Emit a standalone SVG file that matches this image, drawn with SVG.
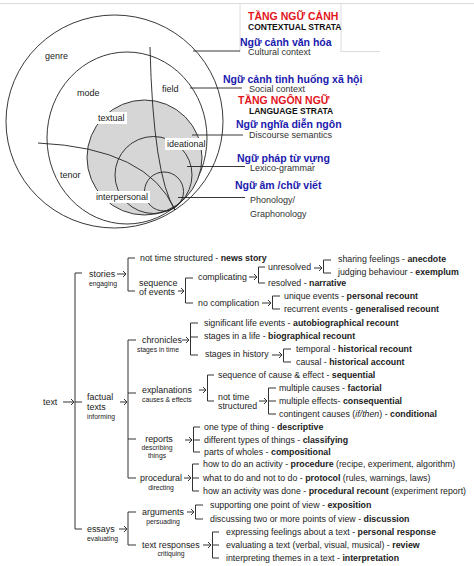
<svg xmlns="http://www.w3.org/2000/svg" width="474" height="566" viewBox="0 0 474 566">
<style>
text{font-family:"Liberation Sans",Arial,sans-serif;fill:#222}
.c{fill:none;stroke:#222;stroke-width:0.9}
.g{fill:#d6d6d6;stroke:#222;stroke-width:0.9}
.lb{font-size:9px}
.bx{fill:#fff}
.red{font-size:10.5px;font-weight:bold;fill:#e3141c}
.blue{font-size:10.5px;font-weight:bold;fill:#1a1aae}
.cap{font-size:8.5px;font-weight:bold;fill:#111}
.en{font-size:9px;fill:#333}
.t{font-size:8.8px}
.l{font-size:8.9px}
.s{font-size:6.8px}
.m{text-anchor:middle}
.b{font-weight:bold}
.k{fill:none;stroke:#333;stroke-width:1}
.lead{fill:none;stroke:#222;stroke-width:0.9}
.art{fill:none;stroke:#dcdcdc;stroke-width:1}
</style>
<rect width="474" height="566" fill="#fff"/>
<g id="artifacts">
<line class="art" x1="0" y1="3.5" x2="474" y2="3.5"/>
<path class="art" d="M240,4 V52 M341,4 V52 M341,51.5 H380"/>
</g>
<g id="circles">
<ellipse class="c" cx="114.5" cy="121.5" rx="108.5" ry="106.5"/>
<ellipse class="c" cx="127" cy="138" rx="80" ry="86"/>
<circle class="g" cx="144.5" cy="157.5" r="57.5"/>
<circle class="c" cx="153.5" cy="175" r="38.5"/>
<circle class="c" cx="164" cy="191.5" r="19.5"/>
<path class="c" d="M38,143 Q148,148 175,210"/>
<path class="c" d="M150,47 Q153,175 175,210"/>
</g>
<g id="circle-labels">
<text class="lb" x="45" y="59">genre</text>
<text class="lb" x="77" y="96">mode</text>
<text class="lb" x="162" y="92">field</text>
<rect class="bx" x="97" y="112" width="30" height="12"/>
<text class="lb" x="98" y="121">textual</text>
<rect class="bx" x="165" y="138" width="40" height="12"/>
<text class="lb" x="167" y="147">ideational</text>
<text class="lb" x="60" y="178">tenor</text>
<rect class="bx" x="94" y="191" width="56" height="12"/>
<text class="lb" x="96" y="200">interpersonal</text>
</g>
<g id="leaders">
<line class="lead" x1="193" y1="51" x2="240" y2="51"/>
<line class="lead" x1="190" y1="88" x2="242" y2="88"/>
<line class="lead" x1="192" y1="135" x2="243" y2="135"/>
<line class="lead" x1="187" y1="166.5" x2="245" y2="166.5"/>
<line class="lead" x1="178" y1="197.5" x2="245" y2="197.5"/>
</g>
<g id="strata-labels">
<text class="red" x="248" y="20">TẦNG NGỮ CẢNH</text>
<text class="cap" x="248" y="30">CONTEXTUAL STRATA</text>
<text class="blue" x="240" y="46">Ngữ cảnh văn hóa</text>
<text class="en" x="248" y="55">Cultural context</text>
<text class="blue" x="223" y="83">Ngữ cảnh tinh huống xã hội</text>
<text class="en" x="249" y="92">Social context</text>
<text class="red" x="238" y="104">TẦNG NGÔN NGỮ</text>
<text class="cap" x="249" y="114">LANGUAGE STRATA</text>
<text class="blue" x="236" y="128">Ngữ nghĩa diễn ngôn</text>
<text class="en" x="249" y="138">Discourse semantics</text>
<text class="blue" x="237" y="162">Ngữ pháp từ vựng</text>
<text class="en" x="250" y="171">Lexico-grammar</text>
<text class="blue" x="235" y="189">Ngữ âm /chữ viết</text>
<text class="en" x="250" y="203">Phonology/</text>
<text class="en" x="250" y="217">Graphonology</text>
</g>
<g id="connectors">
<path class="k" d="M63,402 H74 M71,399 L74,402 L71,405 M75,273 V529 M75,273 H82 M75,529 H82 M75,402 H82"/>
<path class="k" d="M117,274 H126 M123,271 L126,274 L123,277 M128,258 V291 M128,258 H135 M128,291 H135"/>
<path class="k" d="M178,291 H184 M181,288 L184,291 L181,294 M185.5,278 V303 M185.5,278 H193 M185.5,303 H193"/>
<path class="k" d="M249,277 H257 M254,274 L257,277 L254,280 M258.5,267 V283 M258.5,267 H265 M258.5,283 H265"/>
<path class="k" d="M314,268 H322 M319,265 L322,268 L319,271 M323.5,260 V273 M323.5,260 H331 M323.5,273 H331"/>
<path class="k" d="M262,303 H271 M268,300 L271,303 L268,306 M272.5,296 V309 M272.5,296 H280 M272.5,309 H280"/>
<path class="k" d="M120,402 H127 M124,399 L127,402 L124,405 M128,340 V478 M128,340 H136 M128,393 H136 M128,439 H136 M128,478 H136"/>
<path class="k" d="M182,340 H189 M186,337 L189,340 L186,343 M190.5,323 V355 M190.5,323 H198 M190.5,337 H198 M190.5,355 H198"/>
<path class="k" d="M272,355 H282 M279,352 L282,355 L279,358 M283.5,349 V362 M283.5,349 H291 M283.5,362 H291"/>
<path class="k" d="M199,390 H206 M203,387 L206,390 L203,393 M207.5,375 V401 M207.5,375 H214 M207.5,401 H214"/>
<path class="k" d="M259,401 H267 M264,398 L267,401 L264,404 M268.5,388 V414 M268.5,388 H276 M268.5,401 H276 M268.5,414 H276"/>
<path class="k" d="M185,440 H192 M189,437 L192,440 L189,443 M193.5,427 V452 M193.5,427 H200 M193.5,440 H200 M193.5,452 H200"/>
<path class="k" d="M184,478 H191 M188,475 L191,478 L188,481 M192.5,464 V491 M192.5,464 H199 M192.5,478 H199 M192.5,491 H199"/>
<path class="k" d="M119,529 H127 M124,526 L127,529 L124,532 M128,512 V545 M128,512 H136 M128,545 H136"/>
<path class="k" d="M187,512 H194 M191,509 L194,512 L191,515 M195.5,505 V519 M195.5,505 H203 M195.5,519 H203"/>
<path class="k" d="M203,545 H211 M208,542 L211,545 L208,548 M212.5,532 V558 M212.5,532 H219 M212.5,545 H219 M212.5,558 H219"/>
</g>
<g id="n-text"><text class="l" x="43" y="405">text</text></g>
<g id="n-stories"><text class="l" x="89" y="277">stories</text><text class="s" x="89" y="286">engaging</text></g>
<g id="n-news"><text class="t" x="140" y="261">not time structured - <tspan class="b">news story</tspan></text></g>
<g id="n-sequence"><text class="l" x="139" y="286">sequence</text><text class="l" x="139" y="295">of events</text></g>
<g id="n-complicating"><text class="t" x="198" y="280">complicating</text></g>
<g id="n-unresolved"><text class="t" x="268" y="270">unresolved</text></g>
<g id="n-anecdote"><text class="t" x="338" y="262">sharing feelings - <tspan class="b">anecdote</tspan></text></g>
<g id="n-exemplum"><text class="t" x="338" y="275">judging behaviour - <tspan class="b">exemplum</tspan></text></g>
<g id="n-narrative"><text class="t" x="268" y="286">resolved - <tspan class="b">narrative</tspan></text></g>
<g id="n-nocomp"><text class="t" x="198" y="306">no complication</text></g>
<g id="n-personal"><text class="t" x="284" y="299">unique events  - <tspan class="b">personal recount</tspan></text></g>
<g id="n-generalised"><text class="t" x="284" y="312">recurrent events - <tspan class="b">generalised recount</tspan></text></g>
<g id="n-factual"><text class="l" x="87" y="400">factual</text><text class="l" x="87" y="410">texts</text><text class="s" x="87" y="419">informing</text></g>
<g id="n-chronicles"><text class="l" x="142" y="343">chronicles</text><text class="s" x="137" y="352">stages in time</text></g>
<g id="n-autobio"><text class="t" x="204" y="326">significant life events - <tspan class="b">autobiographical recount</tspan></text></g>
<g id="n-bio"><text class="t" x="204" y="339">stages in a life - <tspan class="b">biographical recount</tspan></text></g>
<g id="n-history"><text class="t" x="205" y="357">stages in history</text></g>
<g id="n-hrecount"><text class="t" x="296" y="352">temporal - <tspan class="b">historical recount</tspan></text></g>
<g id="n-haccount"><text class="t" x="296" y="365">causal - <tspan class="b">historical account</tspan></text></g>
<g id="n-explanations"><text class="l" x="142" y="393">explanations</text><text class="s" x="142" y="402">causes &amp; effects</text></g>
<g id="n-sequential"><text class="t" x="218" y="378">sequence of cause &amp; effect - <tspan class="b">sequential</tspan></text></g>
<g id="n-nottime"><text class="t" x="218" y="400">not time</text><text class="t" x="218" y="409">structured</text></g>
<g id="n-factorial"><text class="t" x="279" y="391">multiple causes - <tspan class="b">factorial</tspan></text></g>
<g id="n-consequential"><text class="t" x="279" y="404">multiple effects- <tspan class="b">consequential</tspan></text></g>
<g id="n-conditional"><text class="t" x="279" y="417">contingent causes (<tspan font-style="italic">if/then</tspan>) - <tspan class="b">conditional</tspan></text></g>
<g id="n-reports"><text class="l m" x="159" y="442">reports</text><text class="s m" x="157" y="450">describing</text><text class="s m" x="157" y="458">things</text></g>
<g id="n-descriptive"><text class="t" x="204" y="430">one type of thing - <tspan class="b">descriptive</tspan></text></g>
<g id="n-classifying"><text class="t" x="204" y="443">different types of things - <tspan class="b">classifying</tspan></text></g>
<g id="n-compositional"><text class="t" x="204" y="455">parts of wholes - <tspan class="b">compositional</tspan></text></g>
<g id="n-procedural"><text class="l" x="140" y="481">procedural</text><text class="s m" x="161" y="490">directing</text></g>
<g id="n-procedure"><text class="t" x="203" y="467">how to do an activity - <tspan class="b">procedure</tspan> (recipe, experiment, algorithm)</text></g>
<g id="n-protocol"><text class="t" x="203" y="481">what to do and not to do - <tspan class="b">protocol</tspan> (rules, warnings, laws)</text></g>
<g id="n-precount"><text class="t" x="203" y="494">how an activity was done - <tspan class="b">procedural recount</tspan> (experiment report)</text></g>
<g id="n-essays"><text class="l" x="87" y="532">essays</text><text class="s" x="87" y="541">evaluating</text></g>
<g id="n-arguments"><text class="l" x="142" y="515">arguments</text><text class="s m" x="163" y="524">persuading</text></g>
<g id="n-exposition"><text class="t" x="210" y="508">supporting one point of view - <tspan class="b">exposition</tspan></text></g>
<g id="n-discussion"><text class="t" x="210" y="522">discussing two or more points of view - <tspan class="b">discussion</tspan></text></g>
<g id="n-responses"><text class="l" x="142" y="548">text responses</text><text class="s m" x="171" y="556">critiquing</text></g>
<g id="n-personalresp"><text class="t" x="226" y="535">expressing feelings about a text - <tspan class="b">personal response</tspan></text></g>
<g id="n-review"><text class="t" x="226" y="548">evaluating a text (verbal, visual, musical) - <tspan class="b">review</tspan></text></g>
<g id="n-interpretation"><text class="t" x="226" y="561">interpreting themes in a text - <tspan class="b">interpretation</tspan></text></g>
</svg>
